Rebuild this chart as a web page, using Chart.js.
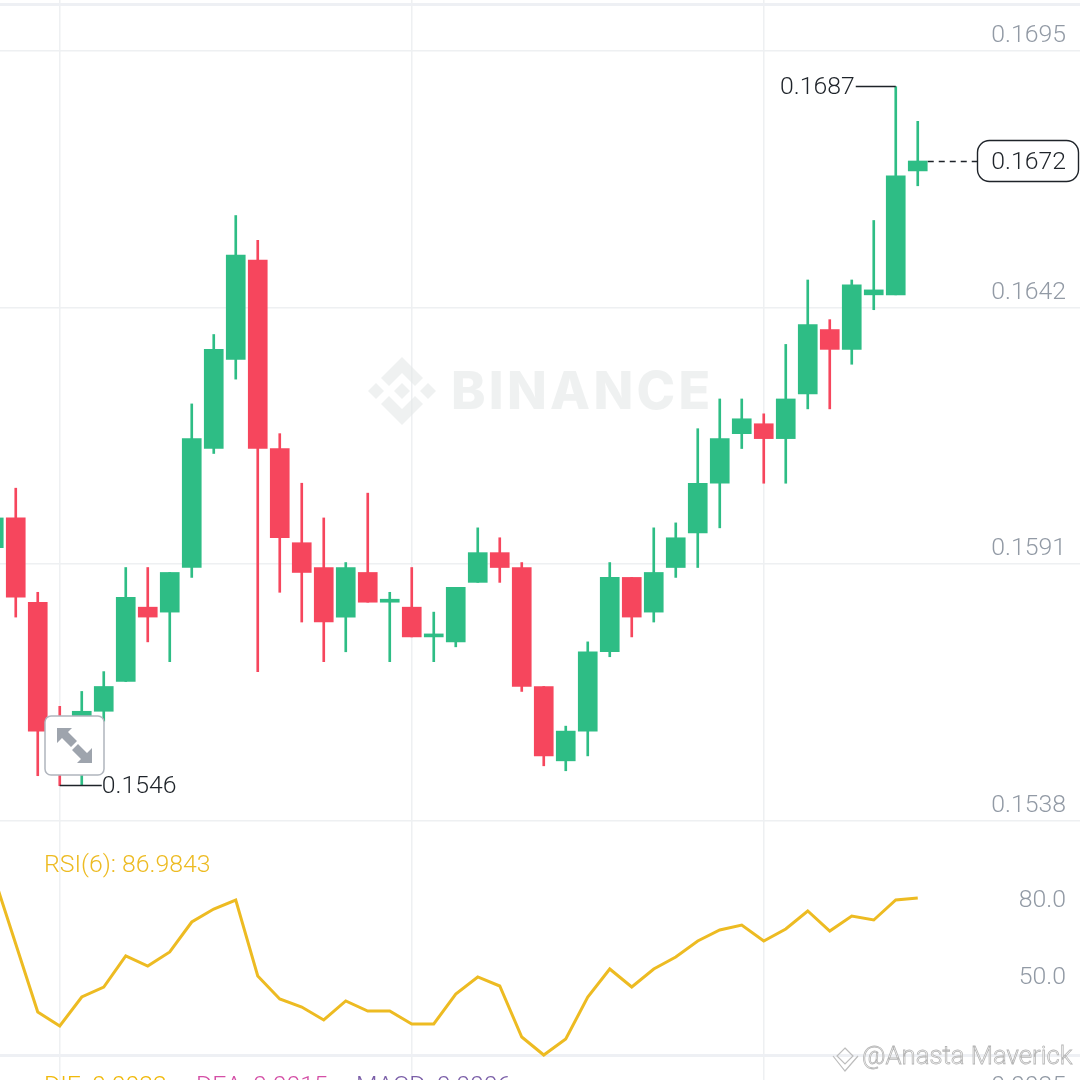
<!DOCTYPE html>
<html>
<head>
<meta charset="utf-8">
<style>html,body{margin:0;padding:0;background:#fff}canvas{display:block}</style>
<script src="https://cdn.jsdelivr.net/npm/chart.js@4"></script>
</head>
<body>
<canvas id="c" width="1080" height="1080"></canvas>
<script>
const opens  = [.1594,.1600,.1583,.1559,.1554,.1561,.1567,.1582,.1581,.1590,.1614,.1632,.1652,.1614,.1595,.1590,.1580,.1589,.1583,.1582,.1576,.1575,.1587,.1593,.1590,.1566,.1551,.1557,.1573,.1588,.1581,.1590,.1597,.1607,.1617,.1619,.1616,.1625,.1638,.1634,.1645,.1645,.1670];
const closes = [.1600,.1584,.1557,.1554,.1561,.1566,.1584,.1580,.1589,.1616,.1634,.1653,.1614,.1596,.1589,.1579,.1590,.1583,.1583,.1576,.1576,.1586,.1593,.1590,.1566,.1552,.1557,.1573,.1588,.1580,.1589,.1596,.1607,.1616,.1620,.1616,.1624,.1639,.1634,.1647,.1646,.1669,.1672];
const highs  = [.1603,.1606,.1585,.1562,.1565,.1569,.1590,.1590,.1589,.1623,.1637,.1661,.1656,.1617,.1607,.1600,.1591,.1605,.1585,.1590,.1581,.1586,.1598,.1596,.1591,.1566,.1558,.1575,.1591,.1588,.1598,.1599,.1618,.1624,.1624,.1621,.1635,.1648,.1640,.1648,.1660,.1687,.1680];
const lows   = [.1590,.1580,.1548,.1546,.1546,.1559,.1567,.1575,.1571,.1588,.1613,.1628,.1569,.1585,.1579,.1571,.1573,.1583,.1571,.1576,.1571,.1574,.1587,.1587,.1565,.1550,.1549,.1552,.1572,.1576,.1579,.1588,.1590,.1598,.1614,.1607,.1607,.1622,.1622,.1631,.1642,.1645,.1667];
const rsiValues = [95.55,69.06,42.57,37.12,48.42,52.31,64.39,60.49,65.94,77.63,82.70,86.20,56.59,47.63,44.52,39.45,46.86,42.96,42.96,37.90,37.90,49.58,56.21,52.70,32.83,25.82,32.05,48.42,59.32,52.31,59.32,64.00,70.23,74.51,76.46,70.23,74.90,81.92,74.12,79.97,78.41,86.20,86.98];
const priceGridValues = [.169419,.164245,.159071,.153887];
const priceTickLabels = ['0.1695','0.1642','0.1591','0.1538'];
const rsiTickValues = [80,50];
const timeGridIndexes = [3,19,35];
const rsiLabel = 'RSI(6): 86.9843';
const macdLabels = [['DIF: 0.0022','#F0B90B',44],['DEA: 0.0015','#D44FA6',196],['MACD: 0.0006','#7B5FA8',356]];
const macdTick = '0.0025';

const UP='#2EBD85', DOWN='#F6465D', GRID='#EEF0F2', AXIS='#929AA5', INK='#1E2329', YEL='#EDBB22';
const FONT='Roboto, sans-serif';
const idx = opens.map((_,i)=>i);
const colours = idx.map(i=> closes[i]>=opens[i] ? UP : DOWN);

function roundRect(ctx,x,y,w,h,r){ctx.beginPath();ctx.roundRect(x,y,w,h,r);}
function poly(ctx,cx,cy,pts){ctx.beginPath();pts.forEach((p,i)=>i?ctx.lineTo(cx+p[0],cy+p[1]):ctx.moveTo(cx+p[0],cy+p[1]));ctx.closePath();}
function flatAxis(s){s.width=0;s.paddingTop=0;s.paddingBottom=0;}

const backdrop = {
  id:'backdrop',
  beforeDatasetsDraw(chart){
    const c=chart.ctx; c.save();
    c.fillStyle='#EEF0F4';
    c.fillRect(0,3,1080,3);
    c.fillRect(0,1054,1080,3);
    const col='rgba(228,231,231,0.6)';
    c.fillStyle=col;
    const cx=402, cy=391;
    poly(c,cx,cy,[[0,-8],[8,0],[0,8],[-8,0]]);c.fill();
    poly(c,cx,cy,[[-26,-8],[-18,0],[-26,8],[-34,0]]);c.fill();
    poly(c,cx,cy,[[26,-8],[34,0],[26,8],[18,0]]);c.fill();
    poly(c,cx,cy,[[0,-34],[21,-13],[13,-5],[0,-18],[-13,-5],[-21,-13]]);c.fill();
    poly(c,cx,cy,[[0,34],[21,13],[13,5],[0,18],[-13,5],[-21,13]]);c.fill();
    c.font='800 52px Inter, sans-serif';
    c.textAlign='left';c.textBaseline='alphabetic';
    c.letterSpacing='3.3px';
    c.fillText('BINANCE',451,409);
    c.letterSpacing='0px';
    c.restore();
  }
};

const overlay = {
  id:'overlay',
  afterDatasetsDraw(chart){
    const c=chart.ctx, sx=chart.scales.x, sy=chart.scales.y;
    c.save();
    const hi=highs.indexOf(Math.max(...highs)), lo=lows.indexOf(Math.min(...lows)), last=closes.length-1;
    const hx=sx.getPixelForValue(hi), hy=Math.round(sy.getPixelForValue(highs[hi]))-0.5;
    const lx=sx.getPixelForValue(lo), ly=Math.round(sy.getPixelForValue(lows[lo]))-0.5;
    const px=sx.getPixelForValue(last), py=Math.round(sy.getPixelForValue(closes[last]))+0.5;
    c.strokeStyle=INK;c.lineWidth=1.4;c.fillStyle=INK;
    c.font='300 24.8px '+FONT;c.textBaseline='middle';
    c.beginPath();c.moveTo(hx-40,hy);c.lineTo(hx,hy);c.stroke();
    c.textAlign='right';c.fillText(highs[hi].toFixed(4),hx-41,hy+1.5);
    c.beginPath();c.moveTo(lx,ly);c.lineTo(lx+42,ly);c.stroke();
    c.textAlign='left';c.fillText(lows[lo].toFixed(4),lx+42,ly+1.5);
    c.setLineDash([6,5]);
    c.beginPath();c.moveTo(px+10,py);c.lineTo(977,py);c.stroke();
    c.setLineDash([]);
    c.fillStyle='#fff';
    roundRect(c,977.5,py-21,101,41,12);c.fill();c.stroke();
    c.fillStyle=INK;c.textAlign='right';
    c.fillText(closes[last].toFixed(4),1066,py+1.5);
    c.fillStyle='#fff';c.strokeStyle='#B0B5BD';c.lineWidth=1.5;
    roundRect(c,45,716,59,59,6);c.fill();c.stroke();
    c.fillStyle='#9EA4AD';
    poly(c,0,0,[[57,728],[72,728],[68,732],[77,741],[71,747],[62,738],[57,743]]);c.fill();
    poly(c,0,0,[[92,763],[77,763],[81,759],[72,750],[78,744],[87,753],[92,748]]);c.fill();
    c.font='300 24.8px '+FONT;c.textAlign='left';c.textBaseline='middle';
    c.fillStyle=YEL;c.fillText(rsiLabel,44,865.5);
    macdLabels.forEach(m=>{c.fillStyle=m[1];c.fillText(m[0],m[2],1087);});
    c.fillStyle=AXIS;c.textAlign='right';c.fillText(macdTick,1066,1087);
    c.textAlign='left';c.font='300 25.7px '+FONT;
    c.fillStyle='rgba(255,255,255,0.9)';c.strokeStyle='#B5B5B5';c.lineWidth=0.8;
    c.fillText('@Anasta Maverick',862,1058);c.strokeText('@Anasta Maverick',862,1058);
    c.strokeStyle='#BDBDBD';c.lineWidth=1.2;
    poly(c,845,1056,[[0,-8],[8,0],[0,8],[-8,0]]);c.stroke();
    c.beginPath();c.moveTo(833,1056);c.lineTo(845,1071);c.lineTo(858,1056);c.stroke();
    c.restore();
  }
};

new Chart(document.getElementById('c'),{
  type:'bar',
  data:{datasets:[
    {label:'Wick',order:3,xAxisID:'x',yAxisID:'y',data:idx.map(i=>({x:i,y:[lows[i],highs[i]]})),backgroundColor:colours,barThickness:2,grouped:false,borderWidth:0},
    {label:'Body',order:2,xAxisID:'x',yAxisID:'y',data:idx.map(i=>({x:i,y:[opens[i],closes[i]]})),backgroundColor:colours,barThickness:19,minBarLength:3,grouped:false,borderWidth:0},
    {type:'line',label:'RSI(6)',order:1,xAxisID:'x',yAxisID:'rsi',data:idx.map(i=>({x:i,y:rsiValues[i]})),borderColor:YEL,borderWidth:3,pointRadius:0,tension:0,fill:false}
  ]},
  options:{
    responsive:false,animation:false,devicePixelRatio:1,
    layout:{padding:0},
    plugins:{legend:{display:false},tooltip:{enabled:false}},
    scales:{
      x:{type:'linear',min:6.25/22,max:6.25/22+1080/22,offset:false,
        afterFit(s){s.height=0;},
        afterBuildTicks(s){s.ticks=timeGridIndexes.map(v=>({value:v}));},
        ticks:{display:false},border:{display:false},
        grid:{color:GRID,lineWidth:1.5,drawTicks:false,offset:false}},
      y:{type:'linear',position:'right',min:.1672-919/49574,max:.1672+161/49574,
        afterFit:flatAxis,
        afterBuildTicks(s){s.ticks=priceGridValues.map(v=>({value:v}));},
        ticks:{mirror:true,padding:-14,labelOffset:-15,autoSkip:false,color:AXIS,font:{family:'Roboto',size:24.8,weight:300},callback:(v,i)=>priceTickLabels[i]},
        border:{display:false},
        grid:{color:GRID,lineWidth:1.5,drawTicks:false}},
      rsi:{type:'linear',axis:'y',position:'right',min:86.98-182/2.567,max:86.98+898/2.567,
        afterFit:flatAxis,
        afterBuildTicks(s){s.ticks=rsiTickValues.map(v=>({value:v}));},
        ticks:{mirror:true,padding:-14,labelOffset:-15,autoSkip:false,color:AXIS,font:{family:'Roboto',size:24.8,weight:300},callback:v=>v.toFixed(1)},
        border:{display:false},
        grid:{display:false,drawTicks:false}}
    }
  },
  plugins:[backdrop,overlay]
});
</script>
</body>
</html>
